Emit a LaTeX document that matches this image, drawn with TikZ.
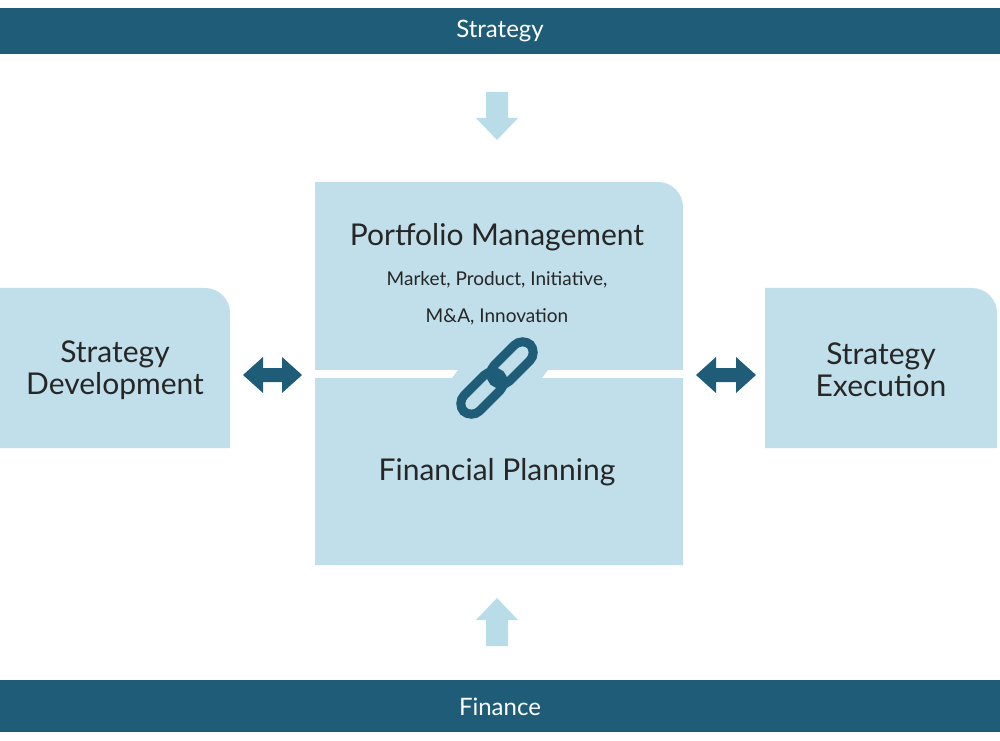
\documentclass[tikz,border=0pt]{standalone}
\usepackage{fontspec}
\setmainfont{Lato}
\definecolor{dark}{HTML}{1E5C78}
\definecolor{light}{HTML}{C0DFEA}
\definecolor{larrow}{HTML}{B8DCE8}
\begin{document}
\begin{tikzpicture}[x=1pt,y=1pt,
  bar/.style={fill=dark,draw=none},
  box/.style={fill=light,draw=none},
  bartext/.style={text=white,font=\fontsize{24}{28}\selectfont},
  big/.style={text=black!85,font=\fontsize{30}{36}\selectfont,align=center},
  small/.style={text=black!85,font=\fontsize{19}{37}\selectfont,align=center},
  link/.style={draw=dark,line width=9pt,rounded corners=12pt}]
\useasboundingbox (0,0) rectangle (1000,740);
% bars
\fill[bar] (0,686) rectangle (1000,732);
\node[bartext] (strat) at (500,709) {Strategy};
\fill[bar] (0,8) rectangle (1000,60);
\node[bartext] (fin) at (500,33) {Finance};
% light arrows
\fill[larrow] (486,648) -- (508,648) -- (508,622) -- (518,622) -- (497,600) -- (476,622) -- (486,622) -- cycle;
\fill[larrow] (486,94) -- (508,94) -- (508,120) -- (518,120) -- (497,142) -- (476,120) -- (486,120) -- cycle;
% central box
\fill[box] (315,175) -- (315,558) -- (658,558) arc (90:0:25) -- (683,175) -- cycle;
\fill[white] (315,362) rectangle (683,370);
\fill[box] (452,362) -- (458,370) -- (548,370) -- (542,362) -- cycle;
\node[big] (pm) at (497,503) {Portfolio Management};
\node[small] (sub) at (497,442) {Market, Product, Initiative,\\M\&A, Innovation};
\node[big] (fp) at (497,268) {Financial Planning};
% chain
\begin{scope}[shift={(482,347)},rotate=45]
\draw[link] (-26,-11) rectangle (26,11);
\end{scope}
\begin{scope}[shift={(512,377)},rotate=45]
\draw[link] (-26,-11) rectangle (26,11);
\end{scope}
% side boxes
\fill[box] (0,292) -- (0,452) -- (205,452) arc (90:0:25) -- (230,292) -- cycle;
\node[big] (sd) at (115,370) {Strategy\\[-4pt]Development};
\fill[box] (765,292) -- (765,452) -- (972,452) arc (90:0:25) -- (997,292) -- cycle;
\node[big] (se) at (881,370) {Strategy\\[-4pt]Execution};
% double arrows
\fill[dark] (243,365) -- (263,383) -- (263,372) -- (282,372) -- (282,383) -- (302,365) -- (282,347) -- (282,358) -- (263,358) -- (263,347) -- cycle;
\fill[dark] (696,365) -- (716,383) -- (716,372) -- (736,372) -- (736,383) -- (756,365) -- (736,347) -- (736,358) -- (716,358) -- (716,347) -- cycle;
\end{tikzpicture}
\end{document}
